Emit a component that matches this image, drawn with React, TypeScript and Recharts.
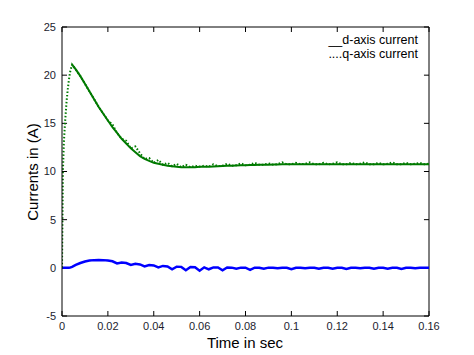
import { LineChart, Line, XAxis, YAxis, ReferenceLine } from "recharts";

// time samples (s)
const time = [
  0, 0.0002, 0.0004, 0.0008, 0.0013, 0.002, 0.0025, 0.003, 0.0035, 0.0044,
  0.006, 0.008, 0.01, 0.012, 0.014, 0.016, 0.018, 0.02, 0.022, 0.024,
  0.026, 0.028, 0.03, 0.032, 0.034, 0.036, 0.038, 0.04, 0.042, 0.044,
  0.046, 0.048, 0.05, 0.052, 0.054, 0.056, 0.058, 0.06, 0.062, 0.064,
  0.066, 0.068, 0.07, 0.072, 0.074, 0.076, 0.078, 0.08, 0.082, 0.084,
  0.086, 0.088, 0.09, 0.092, 0.094, 0.096, 0.098, 0.1, 0.102, 0.104,
  0.106, 0.108, 0.11, 0.112, 0.114, 0.116, 0.118, 0.12, 0.122, 0.124,
  0.126, 0.128, 0.13, 0.132, 0.134, 0.136, 0.138, 0.14, 0.142, 0.144,
  0.146, 0.148, 0.15, 0.152, 0.154, 0.156, 0.158, 0.16,
];

// green solid (d-axis)
const dCurrent = [
  null, null, null, null, null, null, null, null, null, 21.1,
  20.6, 19.9, 19.1, 18.3, 17.5, 16.7, 16.0, 15.3, 14.6, 14.0,
  13.4, 12.9, 12.4, 12.0, 11.6, 11.3, 11.1, 10.9, 10.8, 10.7,
  10.6, 10.55, 10.5, 10.45, 10.45, 10.45, 10.45, 10.5, 10.5, 10.5,
  10.52, 10.55, 10.57, 10.6, 10.6, 10.62, 10.64, 10.65, 10.67, 10.68,
  10.7, 10.7, 10.7, 10.72, 10.72, 10.74, 10.74, 10.75, 10.75, 10.75,
  10.75, 10.75, 10.75, 10.75, 10.75, 10.75, 10.75, 10.75, 10.75, 10.75,
  10.75, 10.75, 10.75, 10.75, 10.75, 10.75, 10.75, 10.75, 10.75, 10.74,
  10.74, 10.74, 10.74, 10.74, 10.74, 10.74, 10.74, 10.74,
];

// green dotted (q-axis)
const qCurrent = [
  0, 5, 10, 13, 15, 17.3, 18.5, 19.5, 20.3, 21.1,
  20.6, 19.9, 19.1, 18.3, 17.5, 16.7, 16.0, 15.3, 14.9, 14.0,
  13.4, 13.2, 12.4, 12.6, 11.9, 11.3, 11.4, 10.9, 11.2, 10.7,
  10.9, 10.55, 10.8, 10.45, 10.7, 10.45, 10.6, 10.5, 10.6, 10.5,
  10.75, 10.55, 10.6, 10.8, 10.6, 10.65, 10.85, 10.65, 10.7, 10.9,
  10.7, 10.7, 10.85, 10.7, 10.75, 10.95, 10.75, 10.75, 10.9, 10.75,
  10.8, 10.95, 10.75, 10.75, 10.9, 10.75, 10.8, 10.95, 10.75, 10.75,
  10.9, 10.75, 10.8, 10.95, 10.75, 10.75, 10.9, 10.75, 10.8, 10.95,
  10.75, 10.75, 10.9, 10.75, 10.8, 10.9, 10.75, 10.8,
];

// blue
const blueCurrent = [
  0, 0, 0, 0, 0, 0, 0, 0, 0.02, 0.1,
  0.3, 0.5, 0.65, 0.75, 0.8, 0.82, 0.8, 0.75, 0.68, 0.45,
  0.55, 0.5, 0.3, 0.42, 0.35, 0.15, 0.3, 0.25, 0.05, 0.2,
  0.15, -0.15, 0.12, 0.1, -0.25, 0.08, 0.06, -0.3, 0.05, -0.15,
  0.04, 0.03, -0.25, 0.03, 0.02, -0.1, 0.02, 0.02, -0.2, 0.02,
  0.01, -0.1, 0.02, 0.01, -0.05, 0.01, 0.01, -0.15, 0.01, 0.01,
  -0.05, 0.01, 0.01, -0.1, 0.01, 0.01, -0.08, 0.01, 0.01, -0.12,
  0.01, 0.01, -0.05, 0.01, 0.01, -0.1, 0.01, 0.01, -0.08, 0.01,
  0.01, -0.12, 0.01, 0.01, -0.05, 0.01, 0.01, 0.01,
];

const xTicks = [0, 0.02, 0.04, 0.06, 0.08, 0.1, 0.12, 0.14, 0.16];
const yTicks = [-5, 0, 5, 10, 15, 20, 25];

const data = time.map((t, i) => ({
  t,
  d: dCurrent[i],
  q: qCurrent[i],
  b: blueCurrent[i],
}));

const X_MIN = 0;
const X_MAX = 0.16;
const Y_MIN = -5;
const Y_MAX = 25;
// inside tick length, in data units (~5px)
const TICK_DY = 0.52;
const TICK_DX = 0.0022;

const FONT = "'Liberation Sans', Arial, sans-serif";
const tickStyle = { fontSize: 11, fill: "#1c1c2e", fontFamily: FONT };

export default function App() {
  return (
    <div style={{ position: "absolute", left: 0, top: 0, width: 474, height: 355, background: "#fff", fontFamily: FONT }}>
      <LineChart width={474} height={355} data={data} margin={{ top: 27, right: 45, bottom: 0, left: 0 }}>
        <XAxis
          dataKey="t"
          type="number"
          domain={[X_MIN, X_MAX]}
          ticks={xTicks}
          allowDataOverflow
          height={39}
          tickLine={false}
          tickSize={0}
          tickMargin={6}
          stroke="#000"
          tick={tickStyle}
          tickFormatter={(v) => String(Number(Number(v).toFixed(2)))}
        />
        <YAxis
          type="number"
          domain={[Y_MIN, Y_MAX]}
          ticks={yTicks}
          allowDataOverflow
          width={62}
          tickLine={false}
          tickSize={0}
          tickMargin={6}
          stroke="#000"
          tick={tickStyle}
        />
        <ReferenceLine y={Y_MAX} stroke="#000" strokeWidth={1} />
        <ReferenceLine x={X_MAX} stroke="#000" strokeWidth={1} />
        {xTicks.map((x) => (
          <ReferenceLine key={`xb-${x}`} segment={[{ x, y: Y_MIN }, { x, y: Y_MIN + TICK_DY }]} stroke="#000" />
        ))}
        {xTicks.map((x) => (
          <ReferenceLine key={`xt-${x}`} segment={[{ x, y: Y_MAX }, { x, y: Y_MAX - TICK_DY }]} stroke="#000" />
        ))}
        {yTicks.map((y) => (
          <ReferenceLine key={`yl-${y}`} segment={[{ x: X_MIN, y }, { x: X_MIN + TICK_DX, y }]} stroke="#000" />
        ))}
        {yTicks.map((y) => (
          <ReferenceLine key={`yr-${y}`} segment={[{ x: X_MAX, y }, { x: X_MAX - TICK_DX, y }]} stroke="#000" />
        ))}
        <Line dataKey="b" stroke="#0000ff" strokeWidth={2.5} dot={false} type="linear" isAnimationActive={false} />
        <Line dataKey="d" stroke="#007a00" strokeWidth={2} dot={false} type="linear" isAnimationActive={false} />
        <Line dataKey="q" stroke="#007a00" strokeWidth={2} strokeDasharray="1.5 2" dot={false} type="linear" isAnimationActive={false} />
      </LineChart>
      <div style={{ position: "absolute", right: 474 - 418, top: 34, fontSize: 12.5, lineHeight: "13.5px", color: "#000", textAlign: "right", whiteSpace: "nowrap" }}>
        <div>__d-axis current</div>
        <div>....q-axis current</div>
      </div>
      <div style={{ position: "absolute", left: 245, top: 342, transform: "translate(-50%, -50%)", fontSize: 15, color: "#000", whiteSpace: "nowrap" }}>
        Time in sec
      </div>
      <div style={{ position: "absolute", left: 32, top: 172, transform: "translate(-50%, -50%) rotate(-90deg)", fontSize: 15, color: "#000", whiteSpace: "nowrap" }}>
        Currents in (A)
      </div>
    </div>
  );
}
